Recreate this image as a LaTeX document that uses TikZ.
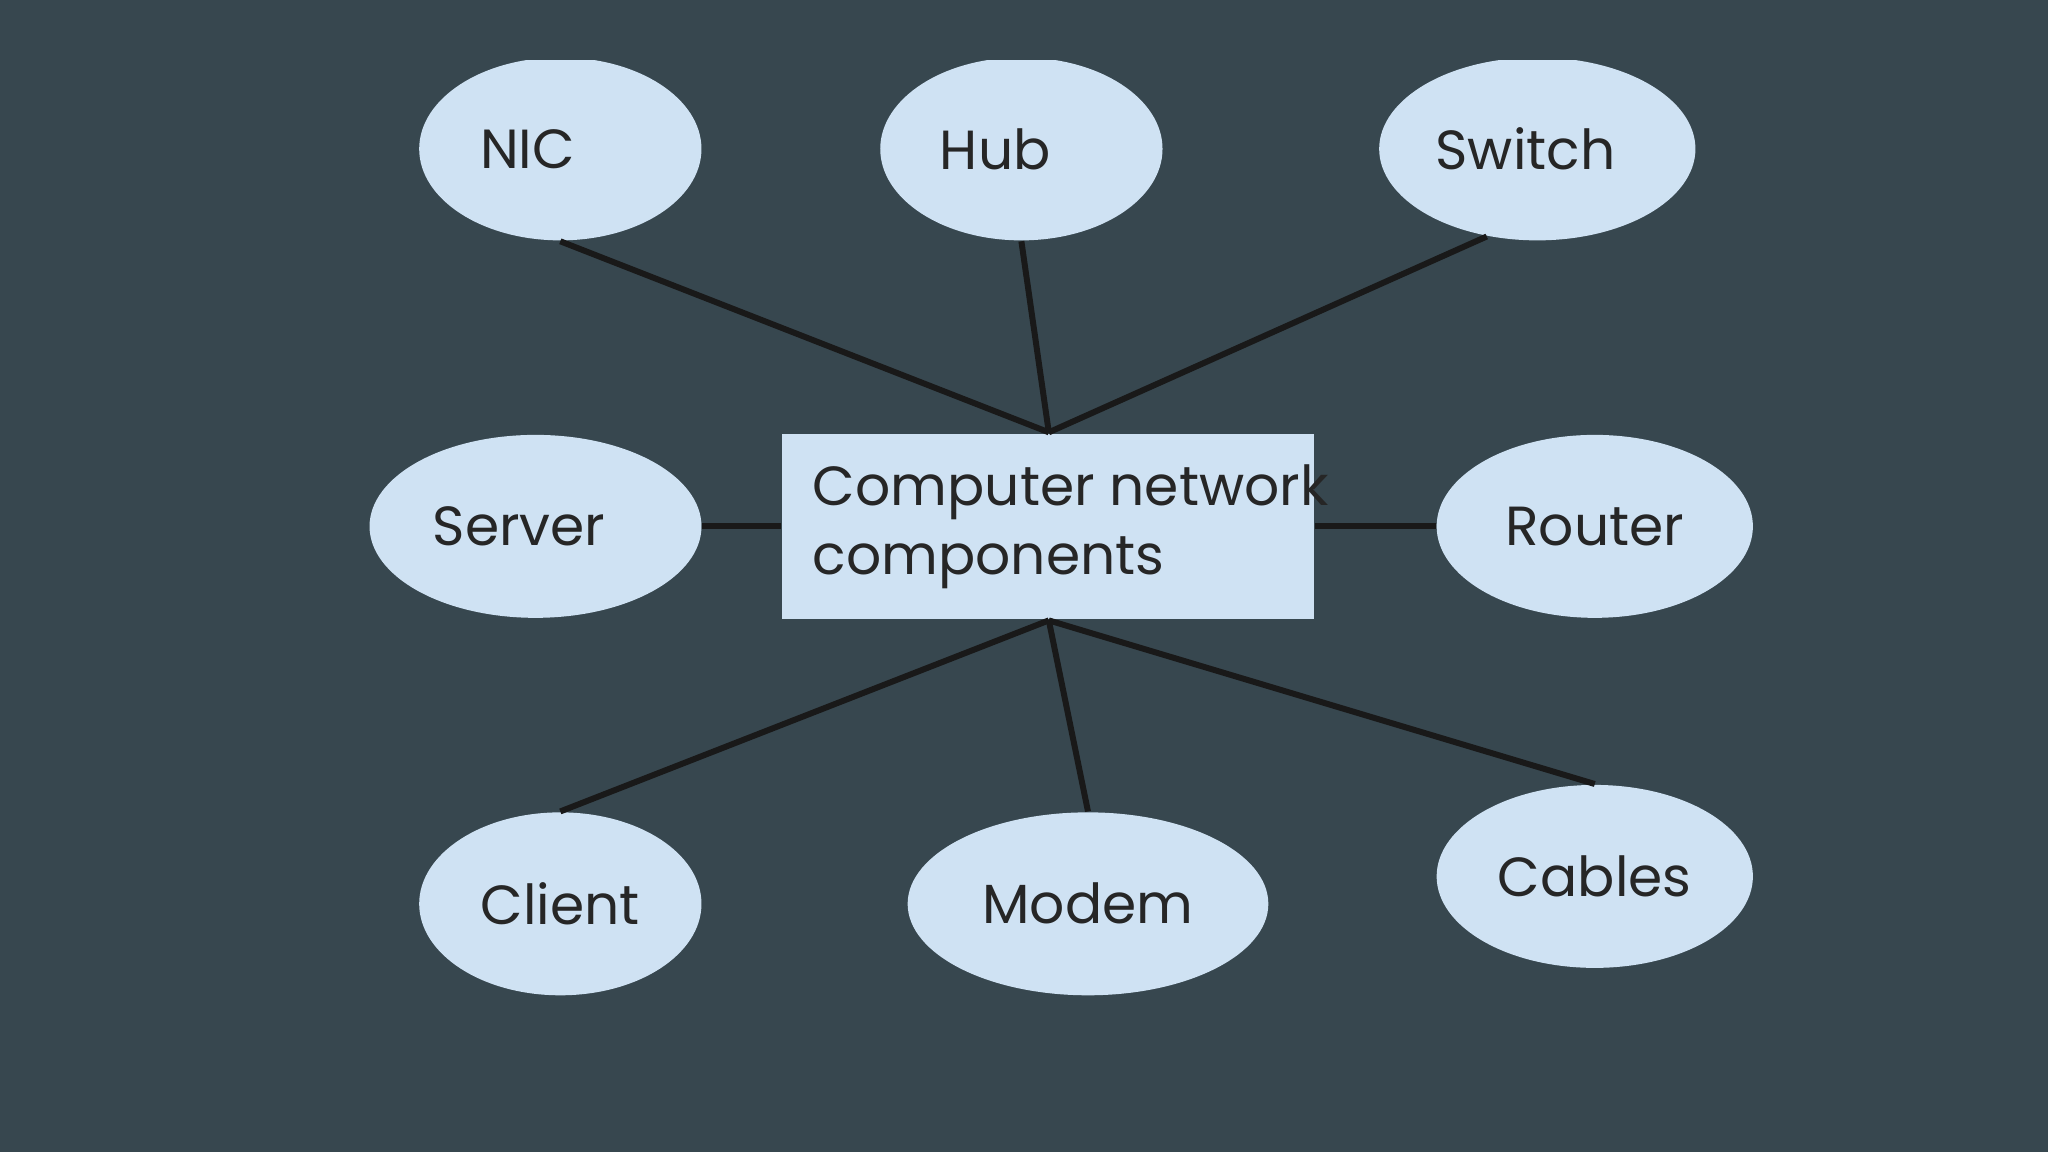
\documentclass[tikz,border=0pt]{standalone}
\usepackage{fontspec}
\setmainfont{Poppins}
\usetikzlibrary{shapes.geometric}
\definecolor{bg}{HTML}{37474F}
\definecolor{fillb}{HTML}{CFE2F3}
\begin{document}
\begin{tikzpicture}[x=0.01cm,y=-0.01cm,
  ell/.style={ellipse,fill=fillb,inner sep=0pt,font=\fontsize{12}{14}\selectfont,text=black!85},
  ln/.style={line width=1.3pt,black!90}]
\fill[bg] (0,0) rectangle (1568,882);
\useasboundingbox (0,0) rectangle (1568,882);
\node[fill=fillb,minimum width=407\pgflinewidth*0+4.07cm,minimum height=1.42cm,inner sep=0pt] (c) at (802.5,403) {};
\node[anchor=west,align=left,font=\fontsize{12}{15}\selectfont,text=black!85] (ct) at (610,403) {Computer network\\components};
\coordinate (ctop) at (803,331);
\coordinate (cbot) at (803,475);
\begin{scope}
\clip (0,46) rectangle (1568,882);
\node[ell,minimum width=2.16cm,minimum height=1.4cm] (nic) at (429,114) {};
\node[ell,minimum width=2.16cm,minimum height=1.4cm] (hub) at (782,114) {};
\node[ell,minimum width=2.42cm,minimum height=1.4cm] (sw) at (1177,114) {};
\end{scope}
\node[font=\fontsize{12}{14}\selectfont,text=black!85] at (404,114) {NIC};
\node[font=\fontsize{12}{14}\selectfont,text=black!85] at (762,114) {Hub};
\node[font=\fontsize{12}{14}\selectfont,text=black!85] at (1168,114) {Switch};
\node[ell,minimum width=2.54cm,minimum height=1.4cm] (srv) at (410,403) {\hspace*{-0.25cm}Server};
\node[ell,minimum width=2.42cm,minimum height=1.4cm] (rt) at (1221,403) {Router};
\node[ell,minimum width=2.16cm,minimum height=1.4cm] (cl) at (429,692) {Client};
\node[ell,minimum width=2.76cm,minimum height=1.4cm] (mo) at (833,692) {Modem};
\node[ell,minimum width=2.42cm,minimum height=1.4cm] (ca) at (1221,671) {Cables};
\draw[ln] (nic.south) -- (ctop);
\draw[ln] (hub.south) -- (ctop);
\draw[ln] (sw.-60) ++(0,0) coordinate (swp);
\draw[ln] (sw.240) -- (ctop);
\draw[ln] (srv.east) -- (c.west);
\draw[ln] (c.east) -- (rt.west);
\draw[ln] (cbot) -- (cl.north);
\draw[ln] (cbot) -- (mo.north);
\draw[ln] (cbot) -- (ca.north);
\end{tikzpicture}
\end{document}
